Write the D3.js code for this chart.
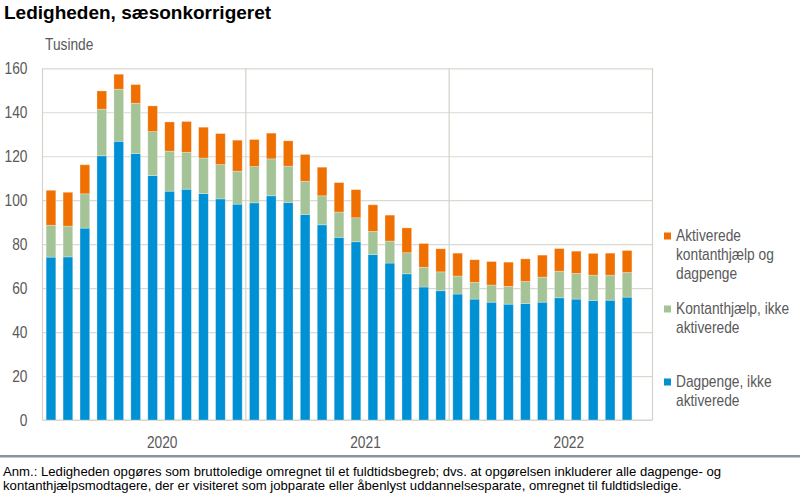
<!DOCTYPE html>
<html>
<head>
<meta charset="utf-8">
<script src="https://cdn.jsdelivr.net/npm/d3@7"></script>
<style>
  body { margin: 0; background: #fff; }
  svg text { font-family: "Liberation Sans", Arial, sans-serif; }
</style>
</head>
<body>
<script>
// months Jan 2020 - Dec 2022 (Dec 2022 no data yet)
var months = d3.range(36).map(function(i) {
  return (2020 + Math.floor(i / 12)) + "-" + String(i % 12 + 1).padStart(2, "0");
});
var years = ["2020", "2021", "2022"];

// tusinde, saesonkorrigeret
var dagpenge = [74.1, 74.2, 87.3, 120.2, 126.8, 121.2, 111.2, 104.1, 105.0, 103.0, 100.6, 98.2,
                98.8, 102.0, 98.9, 93.5, 88.8, 83.1, 81.1, 75.3, 71.4, 66.5, 60.5, 58.8,
                57.3, 55.0, 53.6, 52.7, 53.0, 53.6, 55.6, 55.0, 54.4, 54.5, 55.9];
var kontant = [14.5, 14.0, 15.6, 21.2, 23.7, 22.9, 20.0, 18.2, 16.8, 16.2, 15.6, 15.0,
               16.5, 16.8, 16.6, 15.1, 13.2, 11.5, 10.9, 10.5, 10.0, 9.6, 9.0, 8.6,
               8.2, 7.6, 7.8, 8.1, 10.0, 11.4, 12.1, 11.7, 11.5, 11.4, 11.2];
var aktiverede = [15.9, 15.4, 13.2, 8.3, 6.8, 8.5, 11.7, 13.3, 14.0, 14.0, 14.1, 14.1,
                  12.3, 11.7, 11.5, 12.2, 13.0, 13.4, 12.8, 12.1, 11.8, 11.3, 10.8, 10.5,
                  10.4, 10.3, 10.7, 11.0, 10.3, 10.0, 10.3, 10.1, 9.9, 10.0, 10.0];

var keys = ["dagpenge", "kontant", "aktiverede"];
var colors = { dagpenge: "#0090d4", kontant: "#a4c396", aktiverede: "#ef6f00" };
var legendLines = {
  aktiverede: ["Aktiverede", "kontanthjælp og", "dagpenge"],
  kontant: ["Kontanthjælp, ikke", "aktiverede"],
  dagpenge: ["Dagpenge, ikke", "aktiverede"]
};
var legendY = { aktiverede: 241, kontant: 314, dagpenge: 387 };

var rows = dagpenge.map(function(d, i) {
  return { month: months[i], dagpenge: d, kontant: kontant[i], aktiverede: aktiverede[i] };
});

var width = 800, height = 494;
var plotLeft = 42.5, plotRight = 652.5, plotTop = 68.3, plotBottom = 420;
var narrow = "scale(0.86,1)"; // reference uses a narrow font

var svg = d3.select("body").append("svg")
    .attr("width", width)
    .attr("height", height);

var x = d3.scaleBand()
    .domain(months)
    .range([plotLeft, plotRight])
    .paddingInner(0.43)
    .paddingOuter(0.215);

var y = d3.scaleLinear()
    .domain([0, 160])
    .range([plotBottom, plotTop]);

// title
svg.append("text")
    .attr("x", 4)
    .attr("y", 19)
    .attr("font-size", 19)
    .attr("font-weight", "bold")
    .attr("fill", "#000")
    .text("Ledigheden, sæsonkorrigeret");

svg.append("text")
    .attr("transform", "translate(45,50) " + narrow)
    .attr("font-size", 16)
    .attr("fill", "#595959")
    .text("Tusinde");

// gridlines
var yAxis = d3.axisLeft(y)
    .tickValues(d3.range(0, 161, 20))
    .tickSize(-(plotRight - plotLeft))
    .tickPadding(15);

var gy = svg.append("g")
    .attr("transform", "translate(" + plotLeft + ",0)")
    .call(yAxis);
gy.select(".domain").remove();
gy.selectAll(".tick line").attr("stroke", "#d9d9d3").attr("stroke-width", 1.2);
gy.selectAll(".tick text")
    .attr("x", null)
    .attr("transform", "translate(-15,0) " + narrow)
    .attr("font-size", 16)
    .attr("fill", "#595959");

// frame + year dividers
var half = x.step() * x.paddingInner() / 2;
var yearBounds = [plotLeft, x(months[12]) - half, x(months[24]) - half, plotRight];
svg.append("g").selectAll("line")
    .data(yearBounds)
    .join("line")
    .attr("x1", function(d) { return d; })
    .attr("x2", function(d) { return d; })
    .attr("y1", plotTop)
    .attr("y2", plotBottom)
    .attr("stroke", "#d3d3cc")
    .attr("stroke-width", 1.2);

svg.append("line")
    .attr("x1", plotLeft).attr("x2", plotRight)
    .attr("y1", plotBottom).attr("y2", plotBottom)
    .attr("stroke", "#d3d3cc")
    .attr("stroke-width", 1.2);

// bars
var series = d3.stack().keys(keys)(rows);

svg.append("g").selectAll("g")
    .data(series)
    .join("g")
    .attr("fill", function(s) { return colors[s.key]; })
  .selectAll("rect")
    .data(function(s) { return s; })
    .join("rect")
    .attr("x", function(d) { return x(d.data.month); })
    .attr("y", function(d) { return y(d[1]); })
    .attr("width", x.bandwidth())
    .attr("height", function(d) { return y(d[0]) - y(d[1]); })
    .attr("stroke", "#fff")
    .attr("stroke-opacity", 0.35)
    .attr("stroke-width", 0.8);

// year labels
svg.append("g").selectAll("text")
    .data(years)
    .join("text")
    .attr("transform", function(d, i) {
      return "translate(" + ((yearBounds[i] + yearBounds[i + 1]) / 2 + 18) + ",448) " + narrow;
    })
    .attr("text-anchor", "middle")
    .attr("font-size", 16)
    .attr("fill", "#595959")
    .text(function(d) { return d; });

// legend
var lg = svg.append("g").selectAll("g")
    .data(keys)
    .join("g")
    .attr("transform", function(k) { return "translate(664," + legendY[k] + ")"; });

lg.append("rect")
    .attr("x", 0)
    .attr("y", -8.5)
    .attr("width", 7)
    .attr("height", 7)
    .attr("fill", function(k) { return colors[k]; });

lg.append("text")
    .attr("transform", "translate(12,0) " + narrow)
    .attr("font-size", 16)
    .attr("fill", "#595959")
  .selectAll("tspan")
    .data(function(k) { return legendLines[k]; })
    .join("tspan")
    .attr("x", 0)
    .attr("dy", function(d, i) { return i ? 19 : 0; })
    .text(function(d) { return d; });

// footer
svg.append("rect")
    .attr("x", 0)
    .attr("y", 455)
    .attr("width", width)
    .attr("height", 2.5)
    .attr("fill", "#8a9499");

svg.append("text")
    .attr("x", 3)
    .attr("y", 475.5)
    .attr("font-size", 13.15)
    .attr("fill", "#000")
  .selectAll("tspan")
    .data(["Anm.: Ledigheden opgøres som bruttoledige omregnet til et fuldtidsbegreb; dvs. at opgørelsen inkluderer alle dagpenge- og",
           "kontanthjælpsmodtagere, der er visiteret som jobparate eller åbenlyst uddannelsesparate, omregnet til fuldtidsledige."])
    .join("tspan")
    .attr("x", 3)
    .attr("dy", function(d, i) { return i ? 14.5 : 0; })
    .text(function(d) { return d; });
</script>
</body>
</html>
